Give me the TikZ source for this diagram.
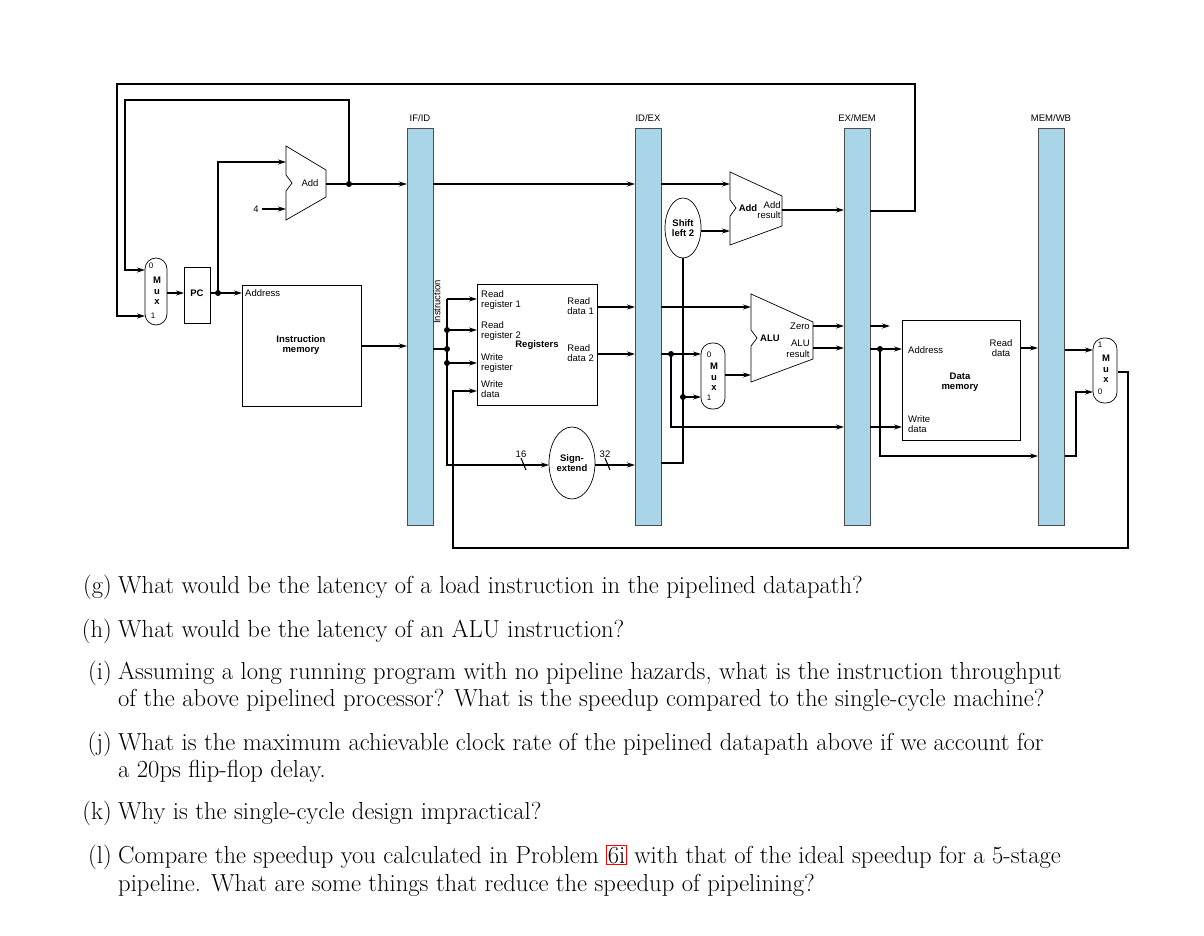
\documentclass[tikz,border=0pt]{standalone}
\usepackage{fontspec}
\newfontfamily\dsf{Liberation Sans}
\usetikzlibrary{arrows.meta,shapes.geometric}
\definecolor{pipe}{HTML}{A8D5E8}
\begin{document}
\begin{tikzpicture}[x=1pt,y=-1pt,
  w/.style={line width=1.1pt},
  a/.style={w,-{Stealth[length=8pt,width=5pt]}},
  dot/.style={circle,fill,inner sep=0pt,minimum size=6pt},
  t/.style={font=\dsf\fontsize{9.5}{10.5}\selectfont,inner sep=0pt,align=left},
  tb/.style={font=\dsf\bfseries\fontsize{9.5}{10.5}\selectfont,inner sep=0pt,align=center},
  bar/.style={draw=black!70,fill=pipe,line width=0.7pt},
  box/.style={draw,line width=0.7pt},
  q/.style={font=\fontsize{24.6}{28}\selectfont,inner sep=0pt,anchor=base west},
  ql/.style={font=\fontsize{24.6}{28}\selectfont,inner sep=0pt,anchor=base east}]
\useasboundingbox (0,0) rectangle (1204,936);
% pipeline registers
\foreach \x/\n/\l in {407/ifid/IF\slash ID,635/idex/ID\slash EX,844/exmem/EX\slash MEM,1038/memwb/MEM\slash WB}{
  \draw[bar] (\x,128) rectangle (\x+26,525);
  \node[t] (\n) at (\x+13,118) {\l};}
% mux1
\draw[box,rounded corners=11pt] (145,258) rectangle (167,325);
\node[t,font=\dsf\fontsize{8}{9}\selectfont] at (151,266) {0};
\node[tb,align=center] (mux1) at (157,291) {M\\u\\x};
\node[t,font=\dsf\fontsize{8}{9}\selectfont] at (153,316) {1};
% PC
\draw[box] (184,267) rectangle (210,323);
\node[tb] (pc) at (197,293) {PC};
% Add
\draw[box] (286,146) -- (326,170) -- (326,197) -- (286,220) -- (286,191) -- (292,183) -- (286,175) -- cycle;
\node[t] (add1) at (310,183) {Add};
\node[t] (four) at (256,209) {4};
% instruction memory
\draw[box] (242,285) rectangle (361,406);
\node[t,anchor=west] at (245,293) {Address};
\node[tb] (imem) at (301,345) {Instruction\\memory};
% registers
\draw[box] (477,284) rectangle (597,405);
\node[t,anchor=north west] at (481,290) {Read\\register 1};
\node[t,anchor=north west] at (481,321) {Read\\register 2};
\node[t,anchor=north west] at (481,353) {Write\\register};
\node[t,anchor=north west] at (481,380) {Write\\data};
\node[t,anchor=north east] at (594,297) {Read\\data 1};
\node[t,anchor=north east] at (594,344) {Read\\data 2};
\node[tb] (regs) at (537,345) {Registers};
\node[t,rotate=90] at (437,302) {Instruction};
% sign extend
\draw[box] (572,463) ellipse (23 and 36);
\node[tb] (sext) at (572,463) {Sign-\\extend};
% shift left 2
\draw[box] (683,228) ellipse (18 and 30);
\node[tb] (sl2) at (683,228) {Shift\\left 2};
% Add2
\draw[box] (730,172) -- (782,196) -- (782,226) -- (730,245) -- (730,216) -- (736,208) -- (730,200) -- cycle;
\node[tb] at (748,208) {Add};
\node[t,align=right] at (769,210) {Add\\result};
% ALU
\draw[box] (751,294) -- (813,322) -- (813,359) -- (751,382) -- (751,346) -- (757,338) -- (751,330) -- cycle;
\node[tb] at (770,338) {ALU};
\node[t] at (800,326) {Zero};
\node[t,align=right] at (798,349) {ALU\\result};
% mux2
\draw[box,rounded corners=11pt] (701,343) rectangle (725,409);
\node[t,font=\dsf\fontsize{8}{9}\selectfont] at (709,355) {0};
\node[tb] (mux2) at (714,377) {M\\u\\x};
\node[t,font=\dsf\fontsize{8}{9}\selectfont] at (709,398) {1};
% data memory
\draw[box] (902,320) rectangle (1020,440);
\node[t,anchor=west] at (908,350) {Address};
\node[t,align=center] at (1001,348) {Read\\data};
\node[tb] (dmem) at (960,382) {Data\\memory};
\node[t,anchor=north west] at (908,415) {Write\\data};
% mux3
\draw[box,rounded corners=11pt] (1093,338) rectangle (1117,403);
\node[t,font=\dsf\fontsize{8}{9}\selectfont] at (1100,345) {1};
\node[tb] (mux3) at (1106,369) {M\\u\\x};
\node[t,font=\dsf\fontsize{8}{9}\selectfont] at (1100,392) {0};
% wires
\draw[a] (870,211) -- (915,211) -- (915,84) -- (117,84) -- (117,316) -- (145,316);
\draw[a] (349,184) -- (349,100) -- (125,100) -- (125,270) -- (145,270);
\draw[a] (167,293) -- (184,293);
\draw[a] (210,293) -- (242,293);
\node[dot] at (218,293) {};
\draw[a] (218,293) -- (218,162) -- (286,162);
\draw[a] (262,209) -- (286,209);
\draw[a] (326,184) -- (407,184);
\node[dot] at (349,184) {};
\draw[a] (361,346) -- (407,346);
\draw[a] (433,184) -- (635,184);
\draw[w] (433,349) -- (447,349);
\node[dot] at (447,349) {};
\draw[a] (447,299) -- (477,299);
\draw[a] (447,330) -- (477,330);
\draw[a] (447,363) -- (477,363);
\node[dot] at (447,330) {};\node[dot] at (447,363) {};
\draw[a] (447,299) -- (447,465) -- (549,465);
\draw[w] (521,458) -- (526,470); \node[t] at (521,454) {16};
\draw[a] (595,465) -- (635,465);
\draw[w] (605,458) -- (610,470); \node[t] at (605,454) {32};
\draw[a] (1118,372) -- (1128,372) -- (1128,548) -- (453,548) -- (453,391) -- (477,391);
\draw[a] (597,307) -- (635,307);
\draw[a] (597,354) -- (635,354);
\draw[a] (661,184) -- (730,184);
\draw[a] (701,231) -- (730,231);
\draw[w] (683,258) -- (683,463) -- (661,463);
\node[dot] at (683,397) {};
\draw[a] (683,397) -- (701,397);
\draw[a] (782,210) -- (844,210);
\draw[a] (661,307) -- (751,307);
\draw[a] (661,354) -- (701,354);
\node[dot] at (671,354) {};
\draw[a] (671,354) -- (671,427) -- (844,427);
\draw[a] (725,375) -- (751,375);
\draw[a] (813,326) -- (844,326);
\draw[a] (813,348) -- (844,348);
\coordinate (zeroend) at (890,326);
\draw[a] (870,326) -- (zeroend);
\draw[a] (870,349) -- (902,349);
\node[dot] at (880,349) {};
\draw[a] (880,349) -- (880,456) -- (1038,456);
\draw[a] (870,427) -- (902,427);
\draw[a] (1020,348) -- (1038,348);
\draw[a] (1065,350) -- (1093,350);
\draw[a] (1065,456) -- (1076,456) -- (1076,392) -- (1093,392);
% questions
\node[ql] at (112,593) {(g)};
\node[q] at (118,593) {What would be the latency of a load instruction in the pipelined datapath?};
\node[ql] at (112,637) {(h)};
\node[q] at (118,637) {What would be the latency of an ALU instruction?};
\node[ql] at (112,679) {(i)};
\node[q] at (118,679) {Assuming a long running program with no pipeline hazards, what is the instruction throughput};
\node[q] at (118,706) {of the above pipelined processor? What is the speedup compared to the single-cycle machine?};
\node[ql] at (112,750) {(j)};
\node[q] at (118,750) {What is the maximum achievable clock rate of the pipelined datapath above if we account for};
\node[q] at (118,777) {a 20ps flip-flop delay.};
\node[ql] at (112,819) {(k)};
\node[q] at (118,819) {Why is the single-cycle design impractical?};
\node[ql] at (112,863) {(l)};
\node[q] at (118,863) {Compare the speedup you calculated in Problem {\setlength\fboxsep{1pt}\setlength\fboxrule{0.6pt}\textcolor{red}{\fbox{\textcolor{black}{6i}}}} with that of the ideal speedup for a 5-stage};
\node[q] at (118,891) {pipeline. What are some things that reduce the speedup of pipelining?};
\end{tikzpicture}
\end{document}
